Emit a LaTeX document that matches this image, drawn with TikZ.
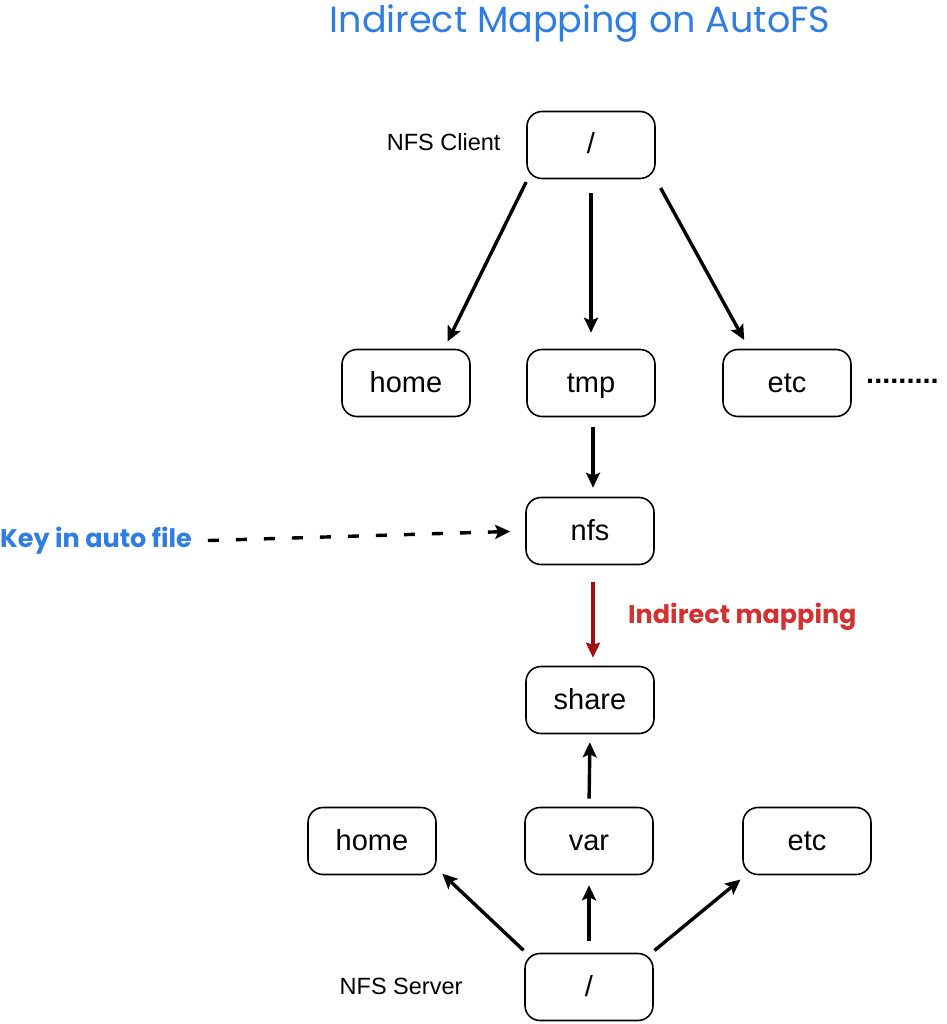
\documentclass[tikz,border=0pt]{standalone}
\usepackage{fontspec}
\setmainfont{Liberation Sans}
\newfontfamily\titlefont{Poppins}
\usetikzlibrary{arrows.meta}
\definecolor{tblue}{HTML}{2F7DE3}
\definecolor{tred}{HTML}{D33131}
\definecolor{darkred}{HTML}{A30F0F}
\begin{document}
\begin{tikzpicture}[x=1pt,y=-1pt,
  box/.style={draw=black, line width=1.6pt, rounded corners=15pt, minimum width=128pt, minimum height=67pt, font=\fontsize{29}{33}\selectfont, inner sep=0pt, text height=20pt, text depth=2pt},
  tip/.style={-{Stealth[length=15pt,width=14pt,inset=3pt]}},
  arr/.style={line width=3.4pt, tip},
  lbl/.style={font=\fontsize{23.5}{28}\selectfont}]
\useasboundingbox (0,0) rectangle (946,1024);
\node[font=\titlefont\fontsize{36.5}{40}\selectfont, text=tblue] (title) at (580,24) {Indirect Mapping on AutoFS};
% client side
\node[box] (c) at (591,145) {/};
\node[lbl, anchor=east] (cl) at (504,142) {NFS Client};
\node[box] (home) at (406,383) {home};
\node[box] (tmp) at (591,383) {tmp};
\node[box] (etc) at (787,383) {etc};
\node[font=\fontsize{29}{30}\selectfont\bfseries, anchor=west, inner sep=0pt] (dots) at (866,381) {.........};
\node[box] (nfs) at (590,531) {nfs};
\node[box] (share) at (590,700) {share};
\node[font=\titlefont\bfseries\fontsize{25.5}{28}\selectfont, text=tblue, anchor=west, inner sep=0pt] (key) at (0,541) {Key in auto file};
\node[font=\titlefont\bfseries\fontsize{25.5}{28}\selectfont, text=tred, anchor=west, inner sep=0pt] (im) at (628,617) {Indirect mapping};
% server side
\node[box] (var) at (589,841) {var};
\node[box] (home2) at (372,841) {home};
\node[box] (etc2) at (807,841) {etc};
\node[box] (s) at (589,987) {/};
\node[lbl, anchor=east] (sl) at (466,986) {NFS Server};
% connectors
\draw[arr, shorten <=2pt, shorten >=8pt] ([xshift=-64pt, yshift=-1pt]c.south) -- ([xshift=38pt]home.north);
\draw[arr, shorten <=14pt, shorten >=16pt] (c.south) -- (tmp.north);
\draw[arr, shorten <=10pt, shorten >=10pt] (c.south east) -- ([xshift=-38pt]etc.north);
\draw[arr, shorten <=10pt, shorten >=9pt] ([xshift=2pt]tmp.south) -- ([xshift=3pt]nfs.north);
\draw[line width=3.4pt, dash pattern=on 11pt off 17pt, tip, shorten <=16pt, shorten >=15pt] (key.east) -- (nfs.west);
\draw[line width=3.2pt, darkred, -{Stealth[length=15pt,width=14pt,inset=2pt]}, shorten <=17pt, shorten >=8pt] ([xshift=3pt]nfs.south) -- ([xshift=3pt]share.north);
\draw[arr, shorten <=8pt, shorten >=8pt] (var.north) -- (share.south);
\draw[arr, shorten <=12pt, shorten >=10pt] (s.north) -- (var.north |- var.south);
\draw[arr, shorten <=2pt, shorten >=2pt] ([xshift=-64pt,yshift=1pt]s.north) -- ([xshift=4pt,yshift=3pt]home2.south east);
\draw[arr, shorten <=2pt, shorten >=2pt] ([xshift=64pt,yshift=1pt]s.north) -- ([xshift=-65pt,yshift=-3pt]etc2.south);
\end{tikzpicture}
\end{document}
